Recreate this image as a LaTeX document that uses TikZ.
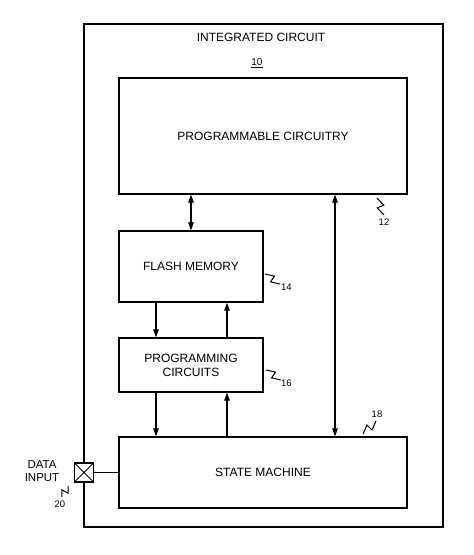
\documentclass[tikz,border=0pt]{standalone}
\usepackage{fontspec}
\setmainfont{Liberation Sans}
\usetikzlibrary{arrows.meta,calc}
\begin{document}
\begin{tikzpicture}[x=1pt,y=-1pt,
  blk/.style={draw,line width=1.2pt,minimum width=#1,inner sep=0pt,align=center,font=\fontsize{12}{14}\selectfont},
  conn/.style={line width=1.2pt,-{Triangle[length=8pt,width=5.5pt]}},
  dconn/.style={line width=1.2pt,{Triangle[length=8pt,width=5.5pt]}-{Triangle[length=8pt,width=5.5pt]}},
  zz/.style={line width=1pt},
  num/.style={font=\fontsize{9.5}{11}\selectfont,inner sep=0pt}]
\useasboundingbox (0,0) rectangle (474,555);
\node[draw,line width=1.2pt,minimum width=359pt,minimum height=503pt,inner sep=0pt] (ic) at (263.5,275.5) {};
\node[font=\fontsize{12}{14}\selectfont] (ictitle) at (261,37) {INTEGRATED CIRCUIT};
\node[font=\fontsize{10}{12}\selectfont] (icnum) at (257,63) {\underline{10}};
\node[blk=288pt,minimum height=116pt] (pc) at (263,136) {PROGRAMMABLE CIRCUITRY};
\node[blk=144pt,minimum height=71pt] (fm) at (191,266.5) {FLASH MEMORY};
\node[blk=144pt,minimum height=54pt] (pg) at (191,365) {PROGRAMMING\\CIRCUITS};
\node[blk=288pt,minimum height=71pt] (sm) at (263,472.5) {STATE MACHINE};
\node[draw,line width=1.2pt,fill=white,minimum size=19pt,inner sep=0pt] (din) at (84,472.5) {};
\draw[line width=1pt] (din.north west) -- (din.south east) (din.north east) -- (din.south west);
\draw[line width=1.2pt] (din.east) -- (sm.west);
\node[align=center,font=\fontsize{11.5}{13}\selectfont] (dinlbl) at (42,471.5) {DATA\\INPUT};
% connectors
\draw[dconn] (fm.north) -- (fm.north |- pc.south);
\draw[conn] ([xshift=-35pt]fm.south) -- ([xshift=-35pt]pg.north);
\draw[conn] ([xshift=36pt]pg.north) -- ([xshift=36pt]fm.south);
\draw[conn] ([xshift=-35pt]pg.south) -- ([xshift=-35pt]pg.south |- sm.north);
\draw[conn] ([xshift=36pt]pg.south |- sm.north) -- ([xshift=36pt]pg.south);
\draw[dconn] ([xshift=72pt]pc.south) -- ([xshift=72pt]sm.north);
% reference leaders
\newcommand\zig[2]{%
  \coordinate (za) at #1; \coordinate (zb) at #2;
  \draw[zz] (za) -- ($(za)!0.5!(zb)!3.5pt!90:(zb)$) -- ($(za)!0.5!(zb)!3.5pt!-90:(zb)$) -- (zb);}
\zig{(377,198)}{(384,215)}
\node[num] (n12) at (384,222) {12};
\zig{(265,274)}{(280,284)}
\node[num,anchor=west] (n14) at (281,287) {14};
\zig{(266,370)}{(281,380)}
\node[num,anchor=west] (n16) at (281,383) {16};
\zig{(363,434)}{(376,421)}
\node[num] (n18) at (377,414) {18};
\zig{(62,497)}{(68,486)}
\node[num] (n20) at (60,504) {20};
\end{tikzpicture}
\end{document}
